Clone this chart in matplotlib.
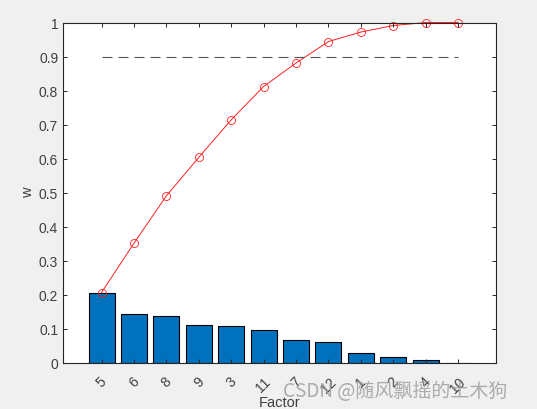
import numpy as np
import matplotlib
matplotlib.use("Agg")
import matplotlib.pyplot as plt

factors = ["5", "6", "8", "9", "3", "11", "7", "12", "1", "2", "4", "10"]
weights = [0.207, 0.145, 0.139, 0.113, 0.110, 0.098, 0.069, 0.063, 0.028, 0.019, 0.010, 0.001]
cumulative = [0.207, 0.352, 0.491, 0.604, 0.714, 0.812, 0.881, 0.944, 0.972, 0.991, 1.0, 1.0]
threshold = [0.9] * 12

plt.rcParams["font.family"] = ["Liberation Sans", "DejaVu Sans"]
W, H = 537, 410
fig = plt.figure(figsize=(W / 100, H / 100), dpi=100, facecolor="#f0f0f0")
ax = fig.add_axes([63 / W, 1 - 364 / H, 433 / W, 340.5 / H])

x = np.arange(1, 13)
dark = "#262626"
text_col = "#404040"
ax.bar(x, weights, width=0.8, color="#0072bd", edgecolor="black", linewidth=0.8, zorder=2)
ax.plot(x, threshold, color="#555555", linewidth=0.8, dashes=(9, 5.4), zorder=3)
ax.plot(x, cumulative, color="#ff2020", linewidth=0.7, marker="o", markersize=5.8,
        markerfacecolor="none", markeredgewidth=0.6, clip_on=False, zorder=2.5)

ax.set_xlim(-0.19, 13.17)
ax.set_ylim(0, 1)
ax.set_xticks(x)
ax.set_xticklabels(factors, rotation=45, ha="center", fontsize=10, color=text_col)
ax.set_yticks(np.arange(0, 1.01, 0.1))
ax.set_yticklabels(["0", "0.1", "0.2", "0.3", "0.4", "0.5", "0.6", "0.7", "0.8", "0.9", "1"],
                   fontsize=10, color=text_col)
ax.tick_params(direction="in", top=True, right=True, length=2.8, width=0.7, color=dark)
ax.tick_params(axis="y", pad=3.5)
ax.tick_params(axis="x", pad=8)
for spine in ax.spines.values():
    spine.set_linewidth(0.8)
    spine.set_color(dark)
    spine.set_zorder(5)
ax.set_axisbelow(False)

fig.text(280 / W, 1 - 403 / H, "Factor", fontsize=10.5, color=text_col, ha="center", va="center")
fig.text(28 / W, 1 - 193 / H, "w", fontsize=10.5, color=text_col, ha="center", va="center", rotation=90)

# watermark
fig.text(395.5 / W, 1 - 392 / H, "CSDN @随风飘摇的土木狗", fontsize=13.7, color="#9a9a9a", alpha=0.8,
         ha="center", va="center", family=["Noto Sans CJK SC", "DejaVu Sans"], zorder=10)

fig.savefig("out.png", dpi=100, facecolor=fig.get_facecolor())
